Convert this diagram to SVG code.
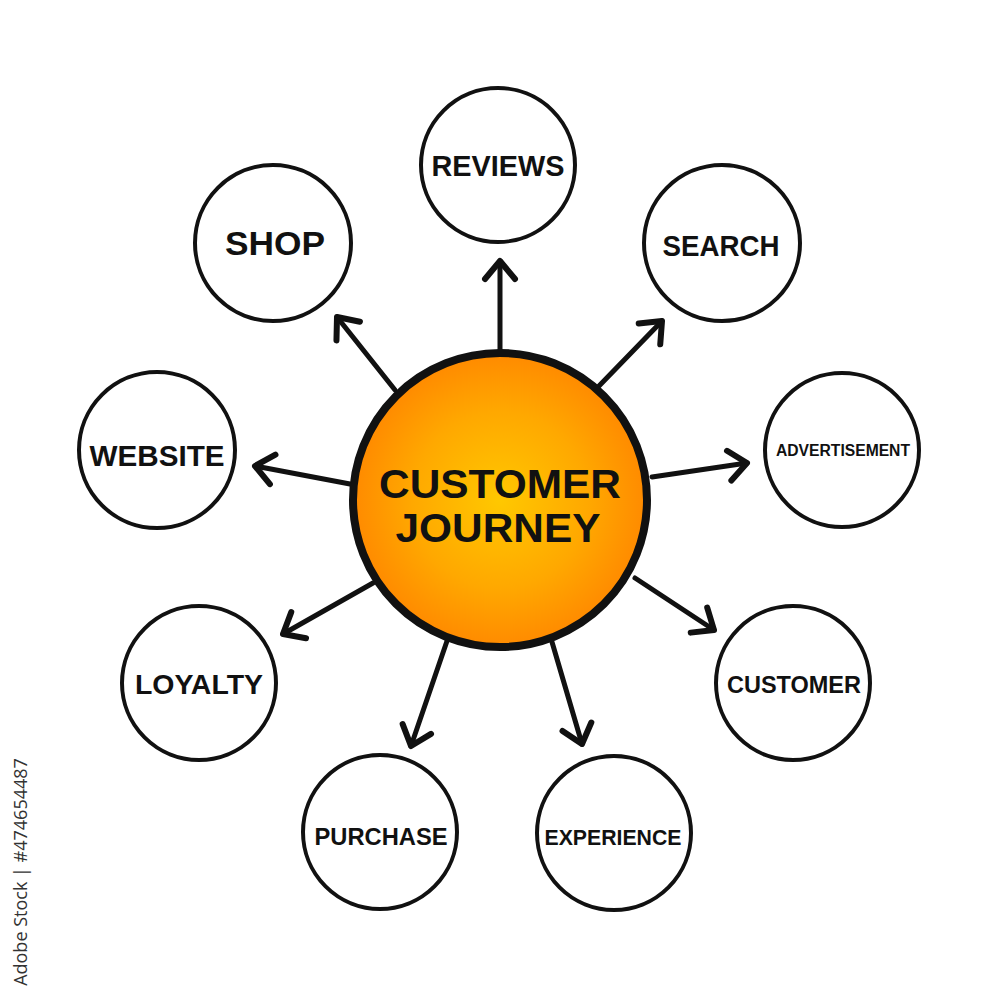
<svg xmlns="http://www.w3.org/2000/svg" width="1000" height="1000" viewBox="0 0 1000 1000">
  <defs>
    <radialGradient id="sun" cx="50%" cy="50%" r="50%">
      <stop offset="0" stop-color="#FFC800"/>
      <stop offset="0.6" stop-color="#FFA800"/>
      <stop offset="1" stop-color="#FF8A00"/>
    </radialGradient>
    <marker id="head" markerUnits="userSpaceOnUse" markerWidth="40" markerHeight="40" viewBox="-30 -20 40 40" refX="0" refY="0" orient="auto">
      <path d="M-18,-15 L0,0 L-18,15" fill="none" stroke="#111" stroke-width="6" stroke-linecap="round" stroke-linejoin="round"/>
    </marker>
    <style>
      .node { fill: #fff; stroke: #111; stroke-width: 4; }
      .label { font-family: "Liberation Sans", Arial, sans-serif; font-weight: bold; fill: #111; text-anchor: middle; dominant-baseline: central; }
      .conn line { stroke: #111; stroke-width: 5; stroke-linecap: round; marker-end: url(#head); }
    </style>
  </defs>
  <rect width="1000" height="1000" fill="#fff"/>

  <g id="connectors" class="conn">
    <line x1="500" y1="352" x2="500" y2="261"/>
    <line x1="395" y1="390" x2="337" y2="317"/>
    <line x1="598" y1="387" x2="662" y2="321"/>
    <line x1="350" y1="484" x2="255" y2="466"/>
    <line x1="652" y1="477" x2="747" y2="463"/>
    <line x1="373" y1="583" x2="283" y2="634"/>
    <line x1="635" y1="578" x2="714" y2="630"/>
    <line x1="447" y1="641" x2="411" y2="746"/>
    <line x1="552" y1="642" x2="582" y2="744"/>
  </g>

  <g id="center">
    <circle cx="500" cy="500" r="147" fill="url(#sun)" stroke="#111" stroke-width="8"/>
    <text class="label" x="500" y="484" font-size="40" textLength="242" lengthAdjust="spacingAndGlyphs">CUSTOMER</text>
    <text class="label" x="498" y="528" font-size="40" textLength="205" lengthAdjust="spacingAndGlyphs">JOURNEY</text>
  </g>

  <g id="reviews">
    <circle class="node" cx="498" cy="165" r="77"/>
    <text class="label" x="498" y="165" font-size="30" textLength="133" lengthAdjust="spacingAndGlyphs">REVIEWS</text>
  </g>
  <g id="shop">
    <circle class="node" cx="273" cy="243" r="78"/>
    <text class="label" x="275" y="243" font-size="34" textLength="100" lengthAdjust="spacingAndGlyphs">SHOP</text>
  </g>
  <g id="search">
    <circle class="node" cx="722" cy="243" r="78"/>
    <text class="label" x="721" y="245" font-size="30" textLength="117" lengthAdjust="spacingAndGlyphs">SEARCH</text>
  </g>
  <g id="website">
    <circle class="node" cx="157" cy="450" r="78"/>
    <text class="label" x="157" y="456" font-size="29" textLength="135" lengthAdjust="spacingAndGlyphs">WEBSITE</text>
  </g>
  <g id="advertisement">
    <circle class="node" cx="842" cy="450" r="77"/>
    <text class="label" x="843" y="450" font-size="16" textLength="134" lengthAdjust="spacingAndGlyphs">ADVERTISEMENT</text>
  </g>
  <g id="loyalty">
    <circle class="node" cx="199" cy="683" r="77"/>
    <text class="label" x="199" y="685" font-size="27" textLength="128" lengthAdjust="spacingAndGlyphs">LOYALTY</text>
  </g>
  <g id="customer">
    <circle class="node" cx="793" cy="683" r="77"/>
    <text class="label" x="794" y="685" font-size="23" textLength="134" lengthAdjust="spacingAndGlyphs">CUSTOMER</text>
  </g>
  <g id="purchase">
    <circle class="node" cx="380" cy="832" r="77"/>
    <text class="label" x="381" y="837" font-size="23" textLength="133" lengthAdjust="spacingAndGlyphs">PURCHASE</text>
  </g>
  <g id="experience">
    <circle class="node" cx="614" cy="833" r="77"/>
    <text class="label" x="613" y="837" font-size="22" textLength="137" lengthAdjust="spacingAndGlyphs">EXPERIENCE</text>
  </g>

  <text x="20" y="872" transform="rotate(-90 20 872)" font-family="'Open Sans', 'Liberation Sans', sans-serif" font-size="18" fill="#333" text-anchor="middle" dominant-baseline="central">Adobe Stock | #474654487</text>
</svg>
